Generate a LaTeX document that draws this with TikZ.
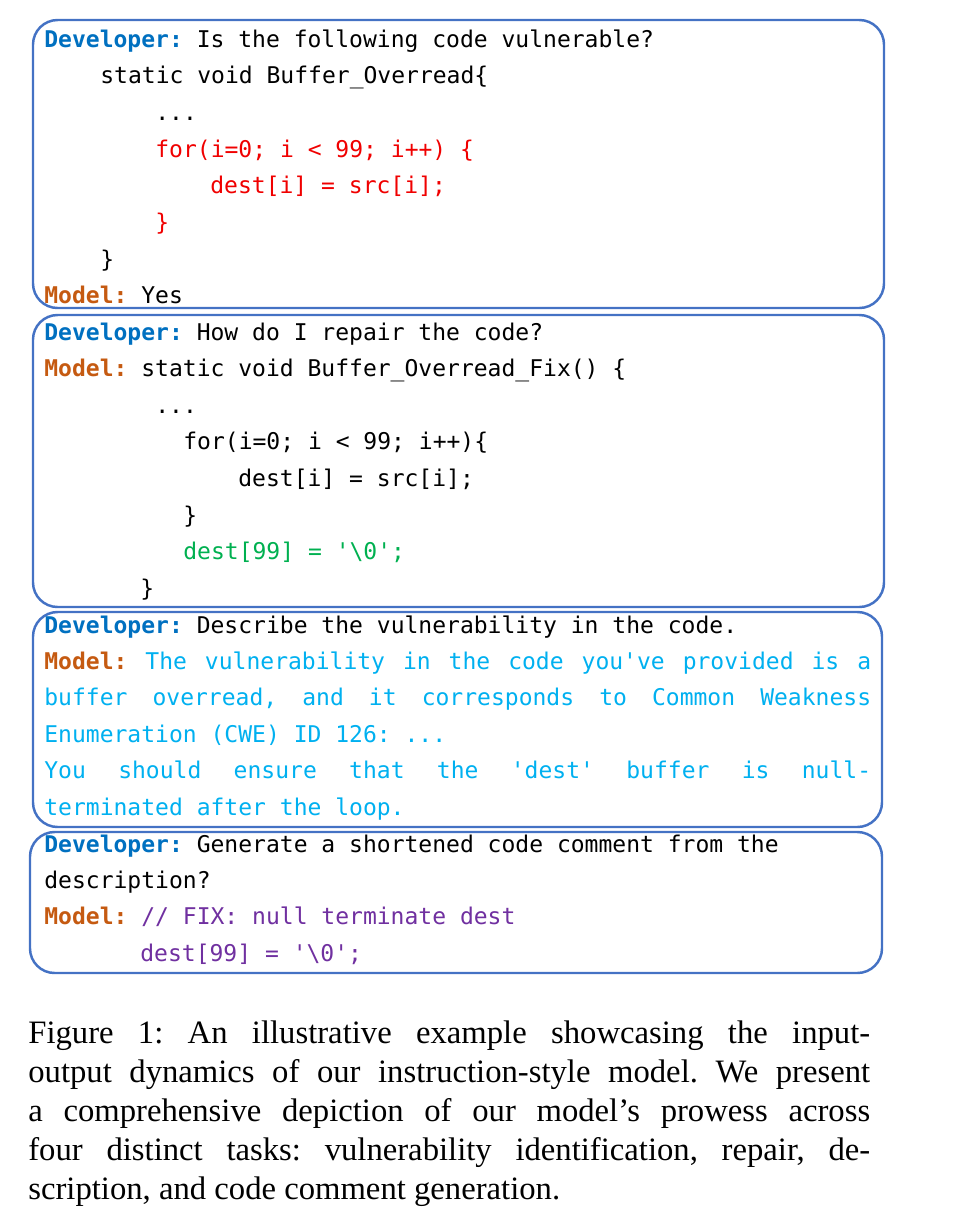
\documentclass[tikz,border=0pt]{standalone}
\usepackage{fontspec}
\setmainfont{Liberation Serif}
\setmonofont{DejaVu Sans Mono}
\definecolor{devblue}{RGB}{0,112,192}
\definecolor{modorange}{RGB}{197,90,17}
\definecolor{codered}{RGB}{240,0,0}
\definecolor{codegreen}{RGB}{0,176,80}
\definecolor{desccyan}{RGB}{0,176,240}
\definecolor{cmtpurple}{RGB}{112,48,160}
\definecolor{boxblue}{RGB}{68,114,196}
\newcommand{\dev}{\textcolor{devblue}{\bfseries Developer:}}
\newcommand{\mdl}{\textcolor{modorange}{\bfseries Model:}}
\newcommand{\bs}{\textbackslash}
\newcommand{\fullline}[2]{\makebox[#1][s]{\spaceskip=\fontdimen2\font plus 1fil\relax #2}}
\frenchspacing
\tikzset{
  chatbox/.style={draw=boxblue, line width=1.4pt, rounded corners=14},
  txt/.style={anchor=base west, inner sep=0pt, font=\ttfamily\fontsize{13.1}{16}\selectfont},
  captxt/.style={anchor=base west, inner sep=0pt, font=\fontsize{18.6}{22}\selectfont}
}
\begin{document}
\begin{tikzpicture}[x=0.02cm, y=-0.02cm]
        \useasboundingbox (0,0) rectangle (970,1232);

        % chat boxes
        \draw[chatbox] (33,20) rectangle (884,308);
        \draw[chatbox] (33,315) rectangle (884,607);
        \draw[chatbox] (33,612) rectangle (882,827);
        \draw[chatbox] (30,832) rectangle (882,973);

        % identification
        \node[txt] (a1) at (44,47) {\dev{} Is the following code vulnerable?};
        \node[txt] (a2) at (100,83) {static void Buffer\_Overread\{};
        \node[txt] (a3) at (155,120) {...};
        \node[txt, text=codered] (a4) at (155,157) {for(i=0; i < 99; i++) \{};
        \node[txt, text=codered] (a5) at (210,193) {dest[i] = src[i];};
        \node[txt, text=codered] (a6) at (155,230) {\}};
        \node[txt] (a7) at (100,267) {\}};
        \node[txt] (a8) at (44,303) {\mdl{} Yes};

        % repair
        \node[txt] (b1) at (44,340) {\dev{} How do I repair the code?};
        \node[txt] (b2) at (44,376) {\mdl{} static void Buffer\_Overread\_Fix() \{};
        \node[txt] (b3) at (155,413) {...};
        \node[txt] (b4) at (183,449) {for(i=0; i < 99; i++)\{};
        \node[txt] (b5) at (238,486) {dest[i] = src[i];};
        \node[txt] (b6) at (183,523) {\}};
        \node[txt, text=codegreen] (b7) at (183,559) {dest[99] = '\bs0';};
        \node[txt] (b8) at (140,596) {\}};

        % description
        \node[txt] (c1) at (44,633) {\dev{} Describe the vulnerability in the code.};
        \node[txt] (c2) at (44,669) {\fullline{16.54cm}{\mdl{} \color{desccyan}The vulnerability in the code you've provided is a}};
        \node[txt, text=desccyan] (c3) at (44,705) {\fullline{16.54cm}{buffer overread, and it corresponds to Common Weakness}};
        \node[txt, text=desccyan] (c4) at (44,742) {Enumeration (CWE) ID 126: ...};
        \node[txt, text=desccyan] (c5) at (44,778) {\fullline{16.54cm}{You should ensure that the 'dest' buffer is null-}};
        \node[txt, text=desccyan] (c6) at (44,815) {terminated after the loop.};

        % comment generation
        \node[txt] (d1) at (44,852) {\dev{} Generate a shortened code comment from the};
        \node[txt] (d2) at (44,888) {description?};
        \node[txt] (d3) at (44,924) {\mdl{} \textcolor{cmtpurple}{// FIX: null terminate dest}};
        \node[txt, text=cmtpurple] (d4) at (140,961) {dest[99] = '\bs0';};

        % caption
        \node[captxt] (e1) at (28,1043) {\makebox[16.84cm][s]{Figure 1: An illustrative example showcasing the input-}};
        \node[captxt] (e2) at (28,1082) {\makebox[16.84cm][s]{output dynamics of our instruction-style model. We present}};
        \node[captxt] (e3) at (28,1121) {\makebox[16.84cm][s]{a comprehensive depiction of our model's prowess across}};
        \node[captxt] (e4) at (28,1160) {\makebox[16.84cm][s]{four distinct tasks: vulnerability identification, repair, de-}};
        \node[captxt] (e5) at (28,1199) {scription, and code comment generation.};
\end{tikzpicture}
\end{document}
